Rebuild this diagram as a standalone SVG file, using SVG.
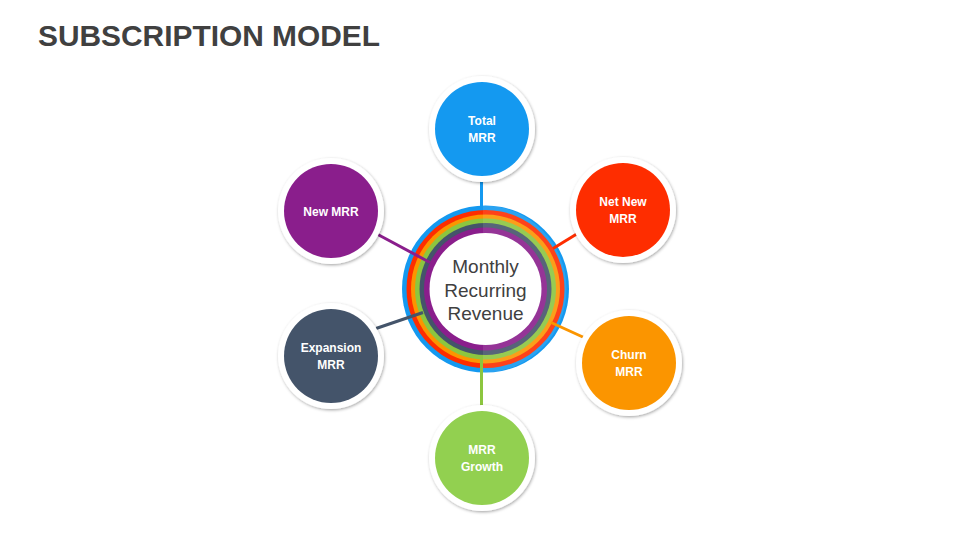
<svg xmlns="http://www.w3.org/2000/svg" width="960" height="540" viewBox="0 0 960 540">
<defs>
<filter id="sh" x="-20%" y="-20%" width="140%" height="140%">
<feDropShadow dx="0.8" dy="1.2" stdDeviation="1.4" flood-color="#000" flood-opacity="0.35"/>
</filter>
<style>
.title{font-family:"Liberation Sans",Arial,sans-serif;font-weight:bold;font-size:30px;fill:#404040}
.lbl{font-family:"Liberation Sans",Arial,sans-serif;font-weight:bold;font-size:12px;fill:#ffffff;text-anchor:middle}
.ctr{font-family:"Liberation Sans",Arial,sans-serif;font-size:19px;fill:#404040;text-anchor:middle}
.ring{fill:#ffffff;filter:url(#sh)}
.con{stroke-width:3;fill:none}
</style>
</defs>
<rect width="960" height="540" fill="#ffffff"/>
<text class="title" x="38" y="46" textLength="342" lengthAdjust="spacingAndGlyphs">SUBSCRIPTION MODEL</text>

<g id="hub">
<circle cx="485.5" cy="289" r="83.5" fill="#1499f0"/>
<circle cx="485.5" cy="289" r="79" fill="#fe2d00"/>
<circle cx="485.5" cy="289" r="74.5" fill="#fb9500"/>
<circle cx="485.5" cy="289" r="70.5" fill="#8cc63f"/>
<circle cx="485.5" cy="289" r="66" fill="#44546a"/>
<circle cx="485.5" cy="289" r="61.5" fill="#8a1e8c"/>
<path d="M483 205.5 A83.5 83.5 0 0 1 483 372.5 Z" fill="#ffffff" opacity="0.1"/>
<circle cx="485.5" cy="289" r="56" fill="#ffffff"/>
<text class="ctr" x="485.5" y="273">Monthly</text>
<text class="ctr" x="485.5" y="297">Recurring</text>
<text class="ctr" x="485.5" y="320">Revenue</text>
</g>

<g id="connectors">
<line class="con" x1="481.5" y1="180" x2="481.5" y2="209" stroke="#1499f0"/>
<line class="con" x1="580" y1="232" x2="553" y2="248.5" stroke="#fe2d00"/>
<line class="con" x1="585" y1="338" x2="551" y2="322.5" stroke="#fb9500"/>
<line class="con" x1="481.5" y1="410" x2="481.5" y2="357" stroke="#8cc63f"/>
<line class="con" x1="376" y1="328.5" x2="423" y2="312.5" stroke="#44546a"/>
<line class="con" x1="376" y1="233.5" x2="430" y2="262.5" stroke="#8a1e8c"/>
</g>

<g id="total-mrr">
<circle class="ring" cx="482" cy="129" r="53"/>
<circle cx="482" cy="129" r="47" fill="#1499f0"/>
<text class="lbl" x="482" y="125">Total</text>
<text class="lbl" x="482" y="142">MRR</text>
</g>

<g id="net-new-mrr">
<circle class="ring" cx="623" cy="210" r="53"/>
<circle cx="623" cy="210" r="47" fill="#fe2d00"/>
<text class="lbl" x="623" y="205.5">Net New</text>
<text class="lbl" x="623" y="222.5">MRR</text>
</g>

<g id="churn-mrr">
<circle class="ring" cx="629" cy="363" r="53"/>
<circle cx="629" cy="363" r="47" fill="#fb9500"/>
<text class="lbl" x="629" y="358.5">Churn</text>
<text class="lbl" x="629" y="375.5">MRR</text>
</g>

<g id="mrr-growth">
<circle class="ring" cx="482" cy="458" r="53"/>
<circle cx="482" cy="458" r="47" fill="#92d050"/>
<text class="lbl" x="482" y="453.5">MRR</text>
<text class="lbl" x="482" y="470.5">Growth</text>
</g>

<g id="expansion-mrr">
<circle class="ring" cx="331" cy="356" r="53"/>
<circle cx="331" cy="356" r="47" fill="#44546a"/>
<text class="lbl" x="331" y="351.5">Expansion</text>
<text class="lbl" x="331" y="368.5">MRR</text>
</g>

<g id="new-mrr">
<circle class="ring" cx="331" cy="211" r="53"/>
<circle cx="331" cy="211" r="47" fill="#8a1e8c"/>
<text class="lbl" x="331" y="215.5">New MRR</text>
</g>
</svg>
